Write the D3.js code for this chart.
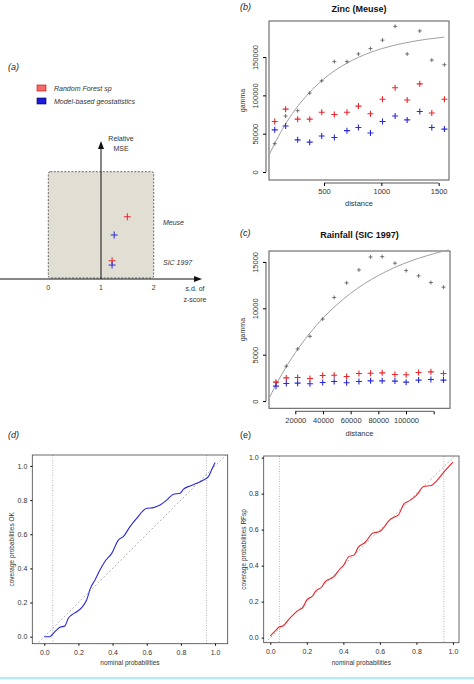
<!DOCTYPE html>
<html><head><meta charset="utf-8">
<script src="https://cdn.jsdelivr.net/npm/d3@7/dist/d3.min.js"></script>
<style>body{margin:0;background:#fff}text{font-family:"Liberation Sans",Arial,sans-serif}</style>
</head><body><svg id="c" width="474" height="684"></svg>
<script>
// Panel b: Zinc (Meuse)
const zincDist=[70,165,270,375,480,590,700,800,905,1010,1120,1225,1335,1440,1550];
const zincObs=[37000,73000,80000,103000,119000,144000,144000,154000,161000,172000,190000,154000,184000,146000,140000];
const zincRF=[66000,82000,69000,69000,78000,75000,78000,86000,76000,95000,110000,94000,115000,77000,95000];
const zincMBG=[55000,60000,42000,39000,47000,45000,54000,58000,51000,66000,73000,68000,79000,58000,56000];
const zincFitH=[20,100,200,300,400,500,600,700,800,900,1000,1100,1200,1300,1400,1550];
const zincFitG=[22100,45900,71000,91300,108000,121700,133000,142000,149600,155800,160800,164900,168200,171000,173300,176000];
const zincXTicks=[500,1000,1500];
const zincYTicks=[0,50000,100000,150000];
// Panel c: Rainfall (SIC 1997)
const rainDist=[6050,13500,21700,30600,39800,48100,57100,66000,74400,82800,92000,100100,109100,118000,127100];
const rainObs=[2000,3760,5620,6980,8840,11170,12740,14140,15540,15570,14860,14070,13500,12780,12280];
const rainRF=[2040,2500,2540,2430,2760,2790,2650,2970,3000,3040,2860,2830,3080,3150,2970];
const rainMBG=[1610,1900,1930,1860,2000,2110,1970,2110,2180,2180,2150,2040,2260,2330,2260];
const rainFitH=[1000,10000,20000,30000,40000,50000,60000,70000,80000,90000,100000,110000,120000,131000];
const rainFitG=[300,2820,5210,7230,8950,10380,11620,12660,13530,14280,14910,15440,15890,16300];
const rainXTicks=[20000,40000,60000,80000,100000,120000];
const rainXLabels=["20000","40000","60000","80000","100000",""];
const rainYTicks=[0,5000,10000,15000];
// Panel a
const aLabels=["Meuse","SIC 1997"];
const aRF_sd=[1.5,1.21], aRF_mse=[0.58,0.17];
const aMBG_sd=[1.25,1.21], aMBG_mse=[0.41,0.13];
const aTicks=[0,1,2];
// Panel d: coverage OK
const okNom=[0,0.033,0.053,0.072,0.092,0.121,0.14,0.16,0.19,0.219,0.248,0.27,0.297,0.326,0.355,0.395,0.434,0.463,0.502,0.541,0.6,0.639,0.678,0.717,0.756,0.795,0.814,0.854,0.893,0.932,0.961,0.98,1.0];
const okCov=[0,0,0.02,0.039,0.055,0.0625,0.107,0.127,0.146,0.17,0.215,0.283,0.332,0.39,0.44,0.488,0.566,0.586,0.645,0.693,0.752,0.756,0.771,0.8,0.834,0.84,0.863,0.883,0.898,0.918,0.9375,0.977,1.02];
// Panel e: coverage RFsp
const rfNom=[0,0.03,0.05,0.07,0.1,0.15,0.18,0.2,0.23,0.25,0.28,0.3,0.35,0.38,0.4,0.43,0.46,0.48,0.52,0.56,0.6,0.62,0.65,0.68,0.7,0.73,0.76,0.8,0.84,0.88,0.9,0.95,1.0];
const rfCov=[0.01,0.04,0.06,0.065,0.1,0.15,0.17,0.21,0.23,0.26,0.28,0.31,0.34,0.38,0.4,0.45,0.46,0.5,0.53,0.58,0.59,0.61,0.65,0.67,0.68,0.74,0.76,0.79,0.84,0.845,0.86,0.92,0.975];
const probTicks=[0,0.2,0.4,0.6,0.8,1.0];

const RED="#e8262b",BLUE="#2a2ad6",GRAY="#a0a0a0";
const svg=d3.select("#c");
function plus(g,x,y,s,col,w){g.append("path").attr("d",`M${x-s},${y}H${x+s}M${x},${y-s}V${y+s}`).attr("stroke",col).attr("stroke-width",w).attr("fill","none");}
function txt(x,y,t,o={}){const e=svg.append("text").attr("x",x).attr("y",y).text(t).attr("font-size",o.fs||8).attr("text-anchor",o.a||"middle").attr("fill",o.c||"#333");if(o.it)e.attr("font-style","italic");if(o.b)e.attr("font-weight","bold");if(o.r)e.attr("transform",`rotate(-90,${x},${y})`);return e;}

function variogram(box,xd,yd,xt,xl,yt,dist,obs,rf,mbg,fh,fg,title,tag,labDist){
  const x=d3.scaleLinear().domain(xd).range([box.l,box.r]);
  const y=d3.scaleLinear().domain(yd).range([box.b,box.t]);
  svg.append("rect").attr("x",box.l).attr("y",box.t).attr("width",box.r-box.l).attr("height",box.b-box.t).attr("fill","none").attr("stroke","#555").attr("stroke-width",1);
  const ax=svg.append("g").attr("transform",`translate(0,${box.b+3})`).call(d3.axisBottom(x).tickValues(xt).tickFormat((d,i)=>xl?xl[i]:String(d)).tickSizeOuter(0).tickSize(3));
  ax.select(".domain").attr("d",`M${x(xt[0])},0H${x(xt[xt.length-1])}`).attr("stroke","#555");
  ax.selectAll("text").attr("font-size",7.5).attr("fill","#333").attr("font-family","Liberation Sans");
  const ay=svg.append("g").attr("transform",`translate(${box.l-3},0)`).call(d3.axisLeft(y).tickValues(yt).tickFormat(d=>String(d)).tickSizeOuter(0).tickSize(3));
  ay.select(".domain").attr("d",`M0,${y(yt[0])}V${y(yt[yt.length-1])}`).attr("stroke","#555");
  ay.selectAll("text").attr("font-size",7.5).attr("fill","#333").attr("font-family","Liberation Sans").attr("text-anchor","middle").attr("x",null).attr("dy",null).attr("transform","translate(-8,0) rotate(-90)");
  svg.append("path").datum(fh.map((h,i)=>[h,fg[i]])).attr("d",d3.line().x(d=>x(d[0])).y(d=>y(d[1])).curve(d3.curveMonotoneX)).attr("fill","none").attr("stroke",GRAY).attr("stroke-width",1);
  const g=svg.append("g");
  dist.forEach((d,i)=>{plus(g,x(d),y(obs[i]),2,"#555",0.8);plus(g,x(d),y(rf[i]),3,RED,1.1);plus(g,x(d),y(mbg[i]),3,BLUE,1.1);});
  txt((box.l+box.r)/2,title.y,title.t,{b:1,fs:9,c:"#111"});
  txt(240,tag.y,tag.t,{a:"start",it:1,fs:9,c:"#222"});
  txt(245,(box.t+box.b)/2,"gamma",{r:1,fs:7});
  txt((box.l+box.r)/2,labDist,"distance",{fs:7.5});
}
variogram({l:269,r:449,t:21,b:180},[20,1590],[-10400,197000],zincXTicks,null,zincYTicks,zincDist,zincObs,zincRF,zincMBG,zincFitH,zincFitG,{t:"Zinc (Meuse)",y:12},{t:"(b)",y:10},206);
variogram({l:269,r:450,t:251,b:408.3},[1000,131800],[-780,16180],rainXTicks,rainXLabels,rainYTicks,rainDist,rainObs,rainRF,rainMBG,rainFitH,rainFitG,{t:"Rainfall (SIC 1997)",y:238},{t:"(c)",y:236},436);

// Panel a
txt(8,70,"(a)",{a:"start",it:1,fs:9,c:"#222"});
svg.append("rect").attr("x",37).attr("y",85).attr("width",9).attr("height",6).attr("fill","#f26a6a").attr("stroke","#c00").attr("stroke-width",0.6);
svg.append("rect").attr("x",37).attr("y",98).attr("width",9).attr("height",6).attr("fill","#1a1ae0").attr("stroke","#003").attr("stroke-width",0.6);
txt(54,91,"Random Forest sp",{a:"start",it:1,fs:7});
txt(54,104,"Model-based geostatistics",{a:"start",it:1,fs:7});
const ax_=d3.scaleLinear().domain([0,1]).range([48.3,101]);
const ay_=d3.scaleLinear().domain([0,1]).range([279,171.7]);
svg.append("rect").attr("x",ax_(0)).attr("y",ay_(1)).attr("width",ax_(2)-ax_(0)).attr("height",ay_(0)-ay_(1)-1).attr("rx",2).attr("fill","#e1ded4").attr("stroke","#444").attr("stroke-width",0.8).attr("stroke-dasharray","2,1.5");
svg.append("line").attr("x1",0).attr("x2",196).attr("y1",279).attr("y2",279).attr("stroke","#111").attr("stroke-width",1);
svg.append("path").attr("d","M202,279L194,276L194,282Z").attr("fill","#111");
svg.append("line").attr("x1",ax_(1)).attr("x2",ax_(1)).attr("y1",279).attr("y2",147).attr("stroke","#111").attr("stroke-width",1);
svg.append("path").attr("d",`M${ax_(1)},141L${ax_(1)-3},149L${ax_(1)+3},149Z`).attr("fill","#111");
aTicks.forEach(t=>txt(ax_(t),290,t,{fs:7}));
txt(121,141,"Relative",{fs:7});txt(121,151,"MSE",{fs:7});
txt(195,291,"s.d. of",{fs:7});txt(195,302,"z-score",{fs:7});
const ga=svg.append("g");
aRF_sd.forEach((s,i)=>plus(ga,ax_(s),ay_(aRF_mse[i]),3.5,RED,1));
aMBG_sd.forEach((s,i)=>plus(ga,ax_(s),ay_(aMBG_mse[i]),3.5,BLUE,1));
txt(163,225,aLabels[0],{a:"start",it:1,fs:7});
txt(163,265,aLabels[1],{a:"start",it:1,fs:7});

// Coverage panels
function cover(box,xd,yd,nom,cov,col,ylab,tag,tagX){
  const x=d3.scaleLinear().domain(xd).range([box.l,box.r]);
  const y=d3.scaleLinear().domain(yd).range([box.b,box.t]);
  const cid="clip"+tag.replace(/\W/g,"");
  svg.append("clipPath").attr("id",cid).append("rect").attr("x",box.l).attr("y",box.t).attr("width",box.r-box.l).attr("height",box.b-box.t);
  const g=svg.append("g").attr("clip-path",`url(#${cid})`);
  [0.05,0.95].forEach(v=>g.append("line").attr("x1",x(v)).attr("x2",x(v)).attr("y1",box.t).attr("y2",box.b).attr("stroke","#999").attr("stroke-width",0.7).attr("stroke-dasharray","1,1.5"));
  g.append("line").attr("x1",x(-0.2)).attr("y1",y(-0.2)).attr("x2",x(1.2)).attr("y2",y(1.2)).attr("stroke","#aaa").attr("stroke-width",0.9).attr("stroke-dasharray","2,2");
  g.append("path").datum(nom.map((n,i)=>[n,cov[i]])).attr("d",d3.line().x(d=>x(d[0])).y(d=>y(d[1])).curve(d3.curveMonotoneX)).attr("fill","none").attr("stroke",col).attr("stroke-width",1.1);
  svg.append("rect").attr("x",box.l).attr("y",box.t).attr("width",box.r-box.l).attr("height",box.b-box.t).attr("fill","none").attr("stroke","#444").attr("stroke-width",0.8);
  const ax=svg.append("g").attr("transform",`translate(0,${box.b})`).call(d3.axisBottom(x).tickValues(probTicks).tickFormat(d3.format(".1f")).tickSize(2));
  ax.select(".domain").remove();ax.selectAll("text").attr("font-size",7).attr("fill","#333").attr("dy","0.9em");
  const ay=svg.append("g").attr("transform",`translate(${box.l},0)`).call(d3.axisLeft(y).tickValues(probTicks).tickFormat(d3.format(".1f")).tickSize(2));
  ay.select(".domain").remove();ay.selectAll("text").attr("font-size",7).attr("fill","#333");
  txt((box.l+box.r)/2,665,"nominal probabilities",{fs:6.5});
  txt(tagX+6,(box.t+box.b)/2,ylab,{r:1,fs:6.5});
  txt(tagX,438,tag,{a:"start",it:tag==="(d)",fs:9,c:"#222"});
}
cover({l:32.3,r:227.7,t:455,b:643.7},[-0.07,1.074],[-0.041,1.064],okNom,okCov,BLUE,"coverage probabilities OK","(d)",8);
cover({l:263.7,r:459,t:456,b:642.7},[-0.036,1.033],[-0.028,1.009],rfNom,rfCov,RED,"coverage probabilities RFsp","(e)",240);
svg.append("rect").attr("x",0).attr("y",677).attr("width",474).attr("height",2.5).attr("fill","#b4ecf2");
</script></body></html>
